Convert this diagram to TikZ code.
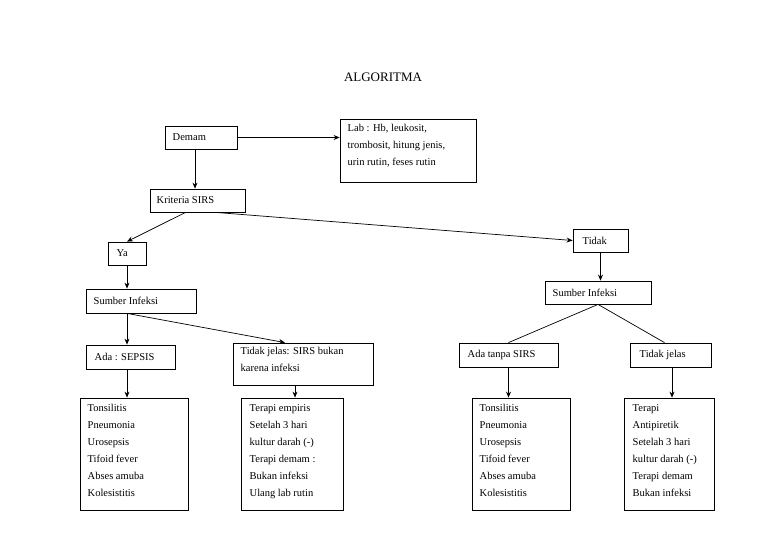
\documentclass[tikz,border=0pt]{standalone}
\usepackage{fontspec}
\setmainfont{Liberation Serif}
\usetikzlibrary{arrows.meta}
\begin{document}
\begin{tikzpicture}[x=1pt,y=-1pt,
  bx/.style={draw,line width=0.8pt,inner sep=0pt},
  ar/.style={line width=0.7pt,-{Stealth[length=6pt,width=5pt]}},
  ln/.style={line width=0.7pt}]
\useasboundingbox (0,0) rectangle (768,543);
\fontsize{10.5}{17}\selectfont
\def\bxx#1#2#3#4#5{\draw[line width=0.8pt] (#2,#3) rectangle (#4,#5);}
\node at (383,77) {\fontsize{13}{15}\selectfont ALGORITMA};
% boxes as named rectangles
\node[bx,minimum width=72pt,minimum height=23pt] (dem) at (201,137.5) {};
\node[anchor=west] at (169,137.5) {Demam};
\node[bx,minimum width=136pt,minimum height=63pt] (lab) at (408,150.5) {};
\node[anchor=north west,align=left] at (344,121) {Lab : Hb, leukosit,\\trombosit, hitung jenis,\\urin rutin, feses rutin};
\node[bx,minimum width=95pt,minimum height=23pt] (kri) at (197.5,200.5) {};
\node[anchor=west] at (153,200.5) {Kriteria SIRS};
\node[bx,minimum width=38pt,minimum height=23pt] (ya) at (127,253.5) {};
\node[anchor=west] at (113,253.5) {Ya};
\node[bx,minimum width=55pt,minimum height=23pt] (tid) at (600.5,240.5) {};
\node[anchor=west] at (579,240.5) {Tidak};
\node[bx,minimum width=110pt,minimum height=24pt] (sl) at (141,301) {};
\node[anchor=west] at (90,301) {Sumber Infeksi};
\node[bx,minimum width=106pt,minimum height=23pt] (sr) at (598,292.5) {};
\node[anchor=west] at (549,292.5) {Sumber Infeksi};
\node[bx,minimum width=89pt,minimum height=24pt] (ada) at (130.5,357) {};
\node[anchor=west] at (91,357) {Ada : SEPSIS};
\node[bx,minimum width=140pt,minimum height=42pt] (tj) at (303,364) {};
\node[anchor=north west,align=left] at (237,344) {Tidak jelas: SIRS bukan\\karena infeksi};
\node[bx,minimum width=99pt,minimum height=24pt] (ats) at (508.5,355) {};
\node[anchor=west] at (464,355) {Ada tanpa SIRS};
\node[bx,minimum width=81pt,minimum height=24pt] (tj2) at (670.5,355) {};
\node[anchor=west] at (636,355) {Tidak jelas};
\node[bx,minimum width=108pt,minimum height=112pt] (b1) at (134,454) {};
\node[anchor=north west,align=left] at (84,401) {Tonsilitis\\Pneumonia\\Urosepsis\\Tifoid fever\\Abses amuba\\Kolesistitis};
\node[bx,minimum width=102pt,minimum height=112pt] (b2) at (292,454) {};
\node[anchor=north west,align=left] at (246,401) {Terapi empiris\\Setelah 3 hari\\kultur darah (-)\\Terapi demam :\\Bukan infeksi\\Ulang lab rutin};
\node[bx,minimum width=98pt,minimum height=112pt] (b3) at (521,454) {};
\node[anchor=north west,align=left] at (476,401) {Tonsilitis\\Pneumonia\\Urosepsis\\Tifoid fever\\Abses amuba\\Kolesistitis};
\node[bx,minimum width=90pt,minimum height=112pt] (b4) at (669,454) {};
\node[anchor=north west,align=left] at (629,401) {Terapi\\Antipiretik\\Setelah 3 hari\\kultur darah (-)\\Terapi demam\\Bukan infeksi};
% connectors
\draw[ar] (dem.east) -- (dem.east -| lab.west);
\draw[ar] (dem.south -| 195,0) -- (kri.north -| 195,0);
\draw[ar] ([xshift=-12pt]kri.south) -- (ya.north);
\draw[ar] ([xshift=18pt]kri.south) -- (tid.west);
\draw[ar] (ya.south) -- (ya.south |- sl.north);
\draw[ar] (tid.south) -- (tid.south |- sr.north);
\draw[ar] (sl.south -| ya.south) -- (ya.south |- ada.north);
\draw[ar] (sl.south -| ya.south) -- ([xshift=-18pt]tj.north);
\draw[ln] (sr.south) -- (ats.north);
\draw[ln] (sr.south) -- ([xshift=-6pt]tj2.north);
\draw[ar] (ya.south |- ada.south) -- (ya.south |- b1.north);
\draw[ar] (295,385) -- (b2.north -| 295,0);
\draw[ar] (ats.south) -- (ats.south |- b3.north);
\draw[ar] (672,367) -- (b4.north -| 672,0);
\end{tikzpicture}
\end{document}
